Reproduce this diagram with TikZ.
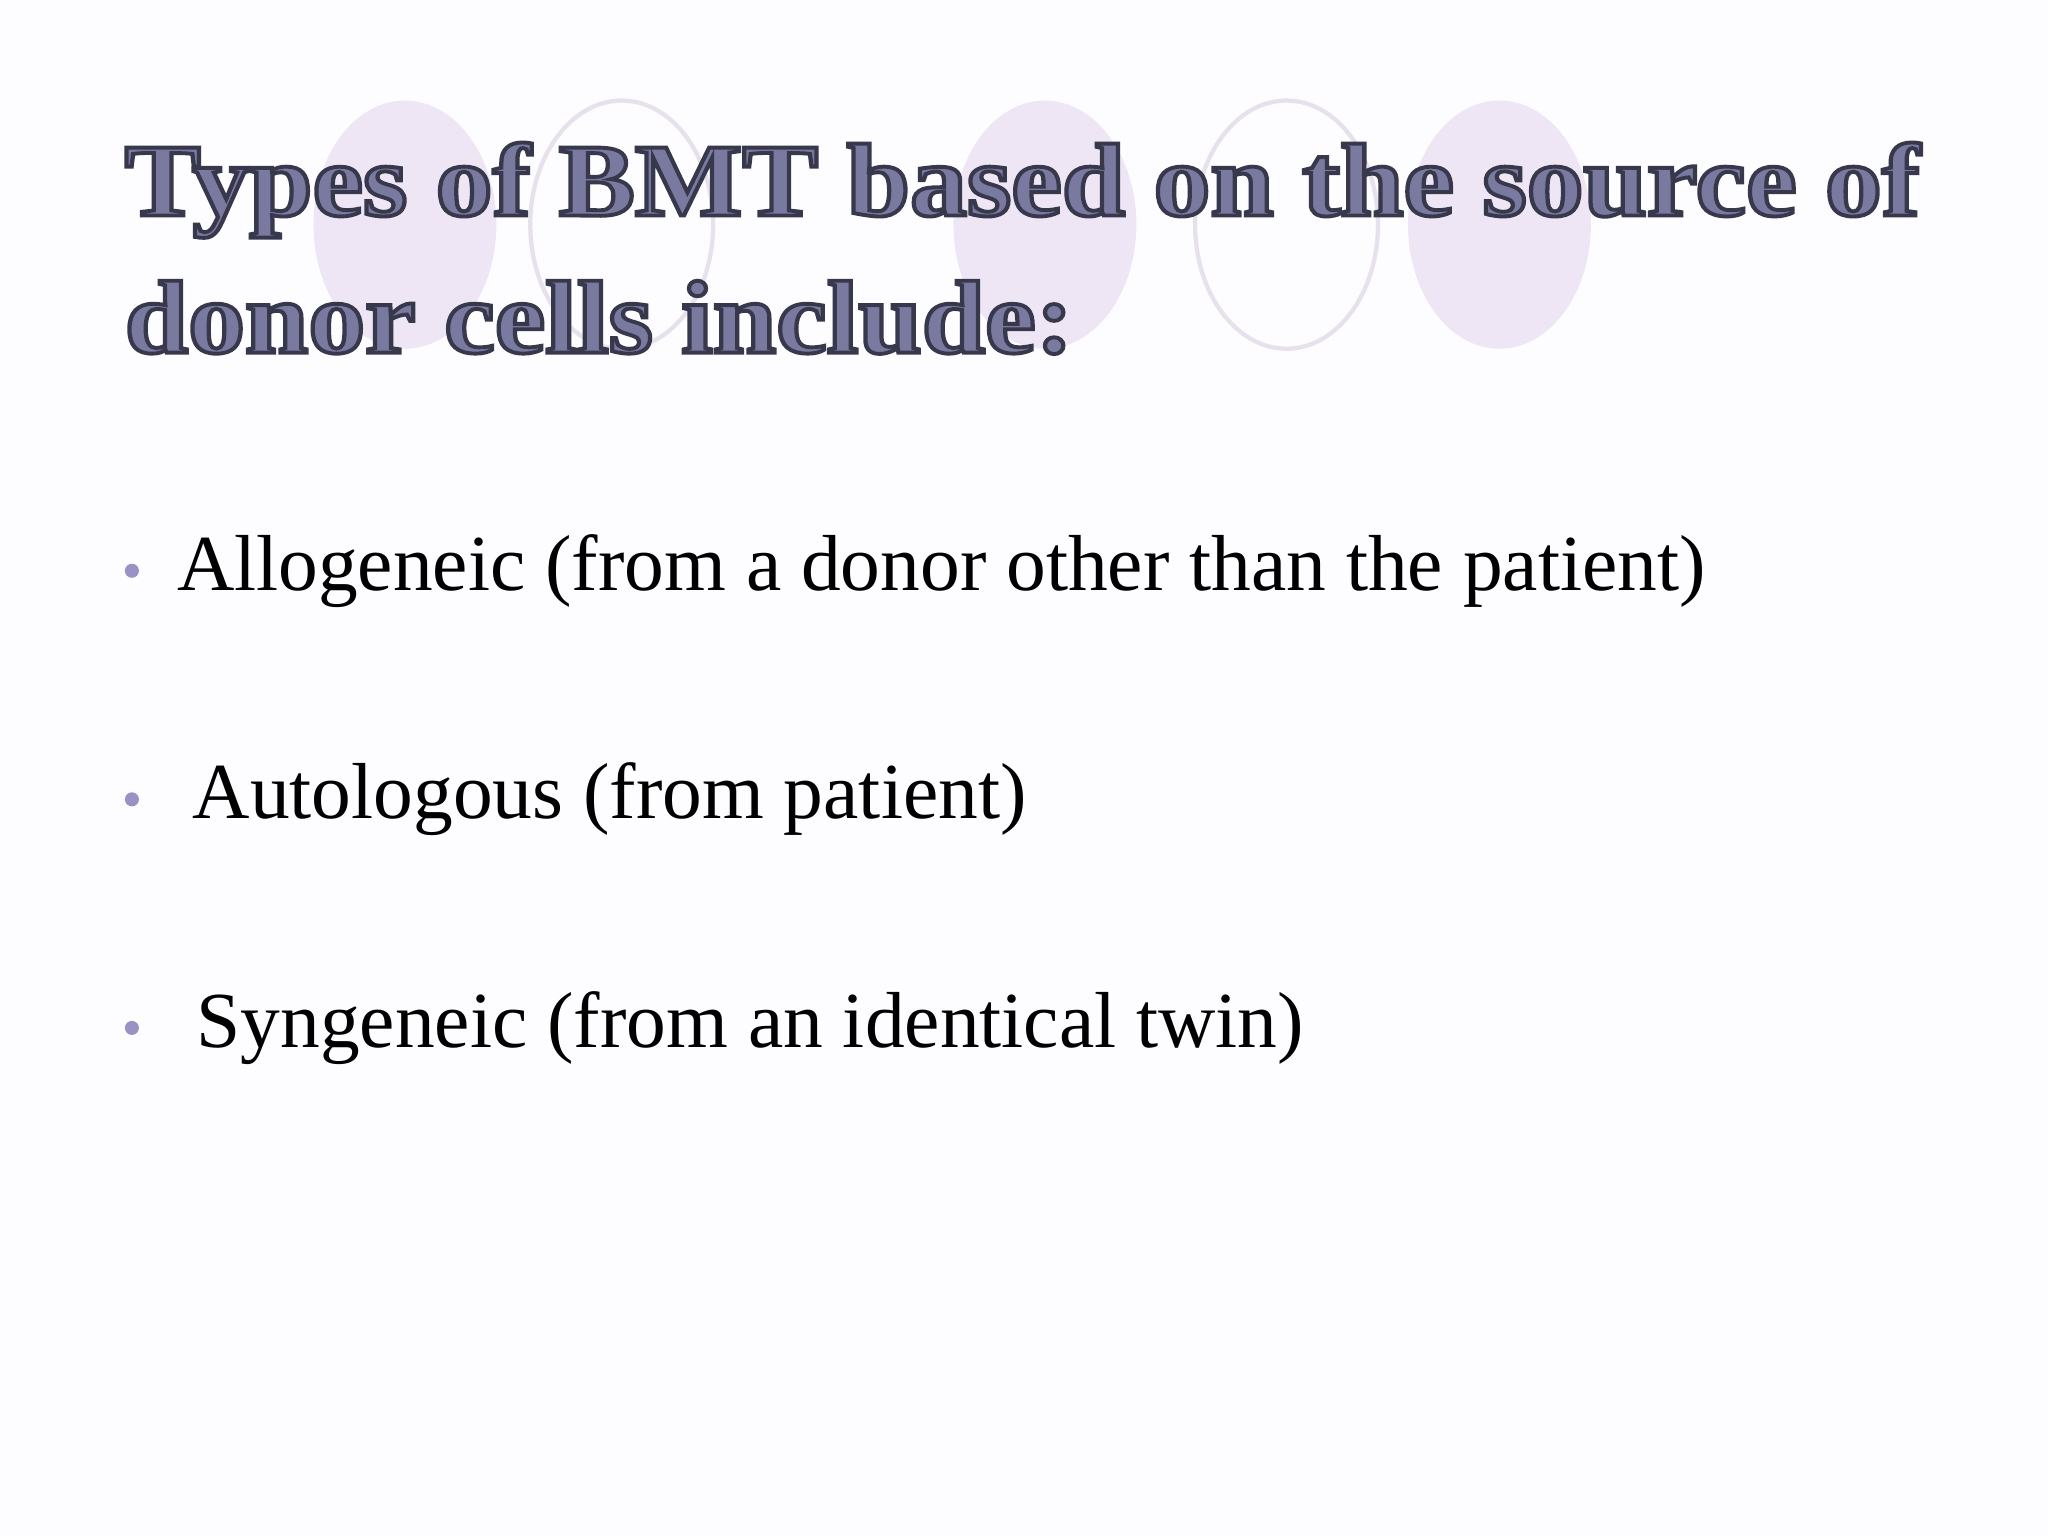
\documentclass[tikz,border=0pt]{standalone}
\usepackage{fontspec}
\setmainfont{Liberation Serif}
\definecolor{slidebg}{HTML}{FDFCFE}
\definecolor{blob}{HTML}{EEE6F4}
\definecolor{ring}{HTML}{E6E1EC}
\definecolor{titlefill}{HTML}{7A79A0}
\definecolor{bulletdot}{HTML}{9A92C4}
\newcommand{\titlewide}[1]{\special{pdf:code 2 Tr 1.1 w 0.22 0.22 0.3 RG}\scalebox{1.098}[1]{#1}\special{pdf:code 0 Tr}}
\begin{document}
\begin{tikzpicture}[
    x=0.013061cm,y=-0.013061cm,
    disc/.style={fill=blob,draw=none},
    hoop/.style={draw=ring,line width=1.2pt},
    titletext/.style={anchor=base west,inner sep=0pt,text=titlefill,font=\fontsize{29.5}{34}\selectfont\bfseries},
    itemtext/.style={anchor=base west,inner sep=0pt,font=\fontsize{22.6}{26}\selectfont},
    dot/.style={circle,fill=bulletdot,inner sep=0pt,minimum size=4pt}
    ]
    \fill[slidebg] (0,0) rectangle (1568,1176);
    \useasboundingbox (0,0) rectangle (1568,1176);
    % circles behind the title
    \fill[disc] (310,172) ellipse [x radius=70,y radius=95];
    \draw[hoop] (476,172) ellipse [x radius=70,y radius=95];
    \fill[disc] (800,172) ellipse [x radius=70,y radius=95];
    \draw[hoop] (985,172) ellipse [x radius=70,y radius=95];
    \fill[disc] (1148,172) ellipse [x radius=70,y radius=95];
    % title
    \node[titletext] (title1) at (95,165) {\titlewide{Types of BMT based on the source of}};
    \node[titletext] (title2) at (95,270) {\titlewide{donor cells include:}};
    % items
    \node[itemtext] (allo) at (135,452) {Allogeneic (from a donor other than the patient)};
    \node[itemtext] (auto) at (147,627) {Autologous (from patient)};
    \node[itemtext] (syn) at (150,802) {Syngeneic (from an identical twin)};
    \node[dot] (d1) at (101,437) {};
    \node[dot] (d2) at (101,612) {};
    \node[dot] (d3) at (101,787) {};
\end{tikzpicture}
\end{document}
